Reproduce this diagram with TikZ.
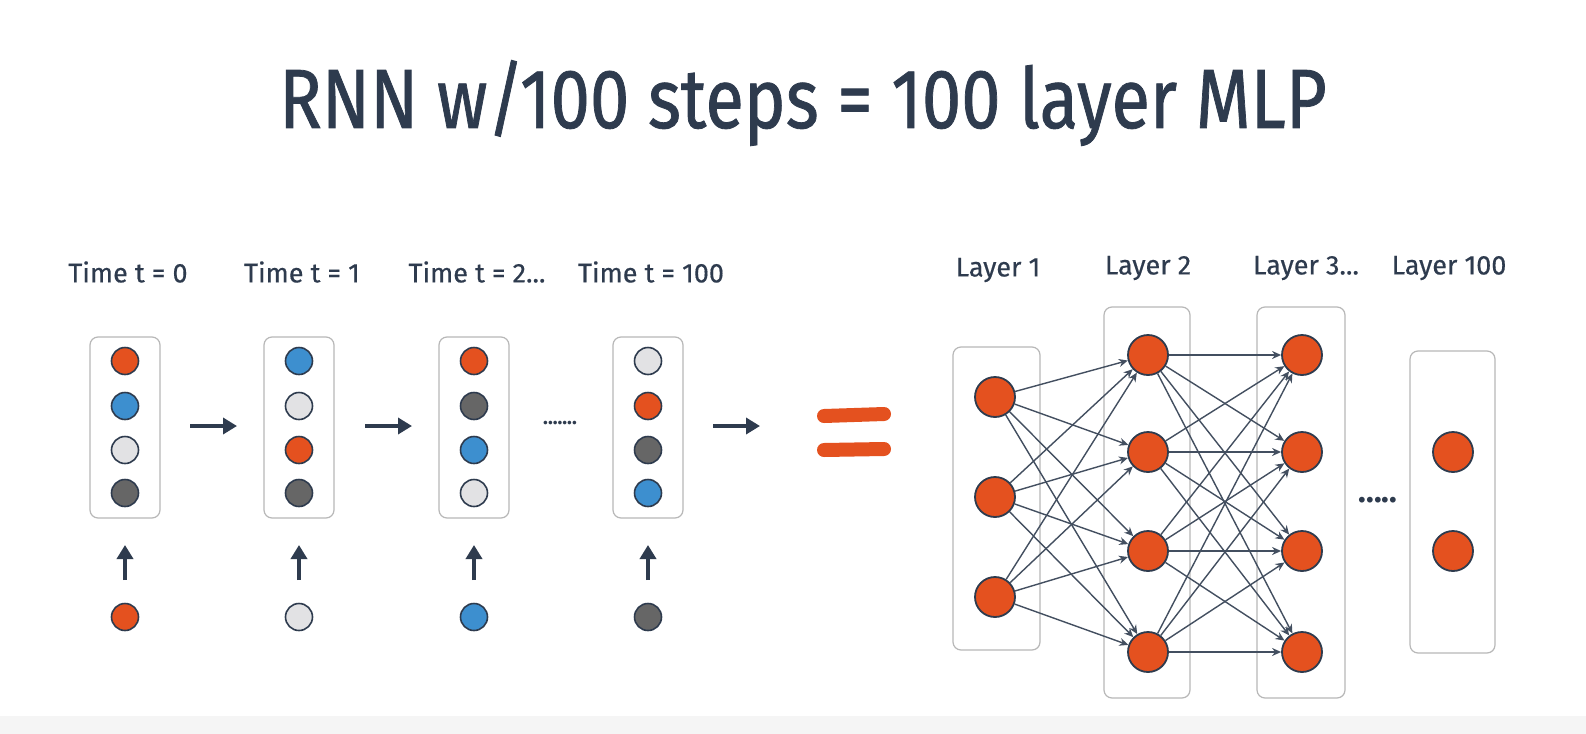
\documentclass[tikz,border=0pt]{standalone}
\usepackage{fontspec}
\setmainfont{Fira Sans}
\usetikzlibrary{arrows.meta}
\definecolor{ink}{HTML}{2E3B4E}
\definecolor{cor}{HTML}{E4511F}
\definecolor{cbl}{HTML}{3D8FCF}
\definecolor{clg}{HTML}{E2E2E4}
\definecolor{cdg}{HTML}{666666}
\definecolor{boxc}{HTML}{B8B8B8}
\def\twodots{2...}
\begin{document}
\begin{tikzpicture}[x=0.5pt,y=-0.5pt,
  box/.style={draw=boxc,line width=0.6pt,rounded corners=4pt},
  dot/.style={circle,draw=ink,line width=0.8pt,minimum size=13.5pt,inner sep=0pt},
  big/.style={circle,draw=ink,line width=0.9pt,fill=cor,minimum size=20pt,inner sep=0pt},
  lab/.style={text=ink,font=\fontsize{13.5}{15}\selectfont\addfontfeature{FakeBold=0.4}},
  arr/.style={-{Triangle[length=7pt,width=8pt]},line width=2pt,draw=ink},
  con/.style={-{Stealth[length=4.5pt,width=4pt]},line width=0.7pt,draw=ink!90}]
\useasboundingbox (0,0) rectangle (1586,734);
\fill[white] (0,0) rectangle (1586,734);
\fill[black!4] (0,716) rectangle (1586,734);
\node[text=ink,font=\fontsize{42}{46}\selectfont\addfontfeature{FakeBold=1}] (title) at (803,103) {\scalebox{0.84}[1]{RNN w/100 steps = 100 layer MLP}};
% RNN part
\foreach \i/\x/\t/\a/\b/\c/\d/\e in {1/125/0/cor/cbl/clg/cdg/cor, 2/299/1/cbl/clg/cor/cdg/clg, 3/474/\twodots/cor/cdg/cbl/clg/cbl, 4/648/100/clg/cor/cdg/cbl/cdg}{
  \node[lab] (t\i) at (\x+3,272) {Time t = \t};
  \draw[box] (\x-35,337) rectangle (\x+35,518);
  \node[dot,fill=\a] (r\i a) at (\x,361) {};
  \node[dot,fill=\b] (r\i b) at (\x,406) {};
  \node[dot,fill=\c] (r\i c) at (\x,450) {};
  \node[dot,fill=\d] (r\i d) at (\x,493) {};
  \node[dot,fill=\e] (in\i) at (\x,617) {};
  \coordinate (ua\i) at (\x,580);
  \coordinate (ub\i) at (\x,545);
  \draw[arr] (ua\i) -- (ub\i);
}
\foreach \i/\x in {1/190,2/365,4/713}{
  \coordinate (ha\i) at (\x,426); \coordinate (hb\i) at (\x+47,426);
  \draw[arr] (ha\i) -- (hb\i);
}
\node[text=ink,font=\bfseries] (dots1) at (560,423) {.......};
% equals
\draw[cor,line width=7pt,line cap=round] (824,416) -- (884,414);
\draw[cor,line width=7pt,line cap=round] (824,450) -- (884,449);
% MLP
\draw[box] (953,347) rectangle (1040,650);
\draw[box] (1104,307) rectangle (1190,698);
\draw[box] (1257,307) rectangle (1345,698);
\draw[box] (1410,351) rectangle (1495,653);
\node[lab] (l1) at (998,270) {Layer 1};
\node[lab] (l2) at (1148,268) {Layer 2};
\node[lab] (l3) at (1306,268) {Layer 3...};
\node[lab] (l4) at (1449,268) {Layer 100};
\foreach \j/\y in {1/397,2/497,3/597}{\node[big] (a\j) at (995,\y) {};}
\foreach \j/\y in {1/355,2/452,3/551,4/652}{\node[big] (b\j) at (1148,\y) {};\node[big] (c\j) at (1302,\y) {};}
\node[big] (d1) at (1453,452) {};
\node[big] (d2) at (1453,551) {};
\foreach \j in {1,2,3}{\foreach \k in {1,2,3,4}{\draw[con] (a\j) -- (b\k);}}
\foreach \j in {1,2,3,4}{\foreach \k in {1,2,3,4}{\draw[con] (b\j) -- (c\k);}}
\node[text=ink,font=\fontsize{16}{16}\selectfont\bfseries] (dots2) at (1378,500) {.....};
\end{tikzpicture}
\end{document}
